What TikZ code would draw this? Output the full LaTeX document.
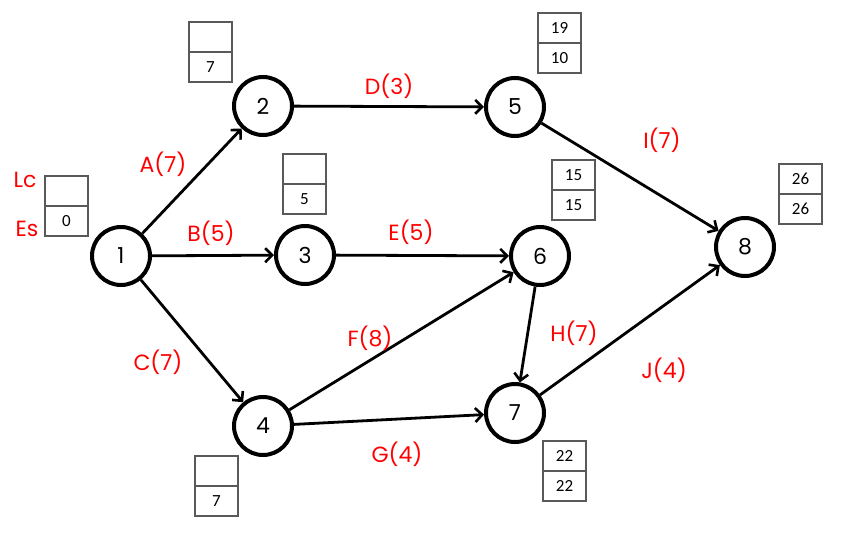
\documentclass[tikz,border=0pt]{standalone}
\usepackage{fontspec}
\setmainfont{Poppins}
\newfontfamily\boxfont{Carlito}
\usetikzlibrary{arrows.meta}
\begin{document}
\begin{tikzpicture}[x=1pt,y=-1pt,
 ev/.style={circle,draw,line width=4pt,minimum size=58pt,inner sep=0pt,font=\fontsize{22}{22}\selectfont},
 act/.style={line width=2.8pt,-{Straight Barb[length=7pt,width=14pt,line width=2.6pt]}},
 lab/.style={text=red,font=\fontsize{22}{22}\selectfont},
 cell/.style={draw=black!65,line width=1.3pt,minimum width=43pt,minimum height=30pt,inner sep=0pt,font=\boxfont\fontsize{17}{17}\selectfont}]
\useasboundingbox (0,0) rectangle (849,549);
% events
\node[ev] (n1) at (121,256) {1};
\node[ev] (n2) at (263,106) {2};
\node[ev] (n3) at (305,255) {3};
\node[ev] (n4) at (263,426) {4};
\node[ev] (n5) at (515,107) {5};
\node[ev] (n6) at (540,256) {6};
\node[ev] (n7) at (515,413) {7};
\node[ev] (n8) at (745,247) {8};
% activities
\draw[act] (n1) -- (n2);
\draw[act] (n1) -- (n3);
\draw[act] (n1) -- (n4);
\draw[act] (n2) -- (n5);
\draw[act] (n3) -- (n6);
\draw[act] (n4) -- (n6);
\draw[act] (n4) -- (n7);
\draw[act] (n5) -- (n8);
\draw[act] (n6) -- (n7);
\draw[act] (n7) -- (n8);
% labels
\node[lab] (lc) at (25,180) {Lc};
\node[lab] (es) at (27,229) {Es};
\node[lab] (la) at (163,164) {A(7)};
\node[lab] (lb) at (211,233) {B(5)};
\node[lab] (lcc) at (158,362) {C(7)};
\node[lab] (ld) at (389,86) {D(3)};
\node[lab] (le) at (411,232) {E(5)};
\node[lab] (lf) at (370,338) {F(8)};
\node[lab] (lg) at (397,454) {G(4)};
\node[lab] (lh) at (574,333) {H(7)};
\node[lab] (li) at (662,140) {I(7)};
\node[lab] (lj) at (664,370) {J(4)};
% boxes
\node[cell] (b1t) at (66.5,191) {};
\node[cell] (b1b) at (66.5,221) {0};
\node[cell] (b2t) at (210.5,37) {};
\node[cell] (b2b) at (210.5,67) {7};
\node[cell] (b3t) at (304.5,169) {};
\node[cell] (b3b) at (304.5,199) {5};
\node[cell] (b4t) at (216.5,471) {};
\node[cell] (b4b) at (216.5,501) {7};
\node[cell] (b5t) at (559.5,28) {19};
\node[cell] (b5b) at (559.5,58) {10};
\node[cell] (b6t) at (573.5,175) {15};
\node[cell] (b6b) at (573.5,205) {15};
\node[cell] (b7t) at (564.5,456) {22};
\node[cell] (b7b) at (564.5,486) {22};
\node[cell] (b8t) at (800.5,179) {26};
\node[cell] (b8b) at (800.5,209) {26};
\end{tikzpicture}
\end{document}
